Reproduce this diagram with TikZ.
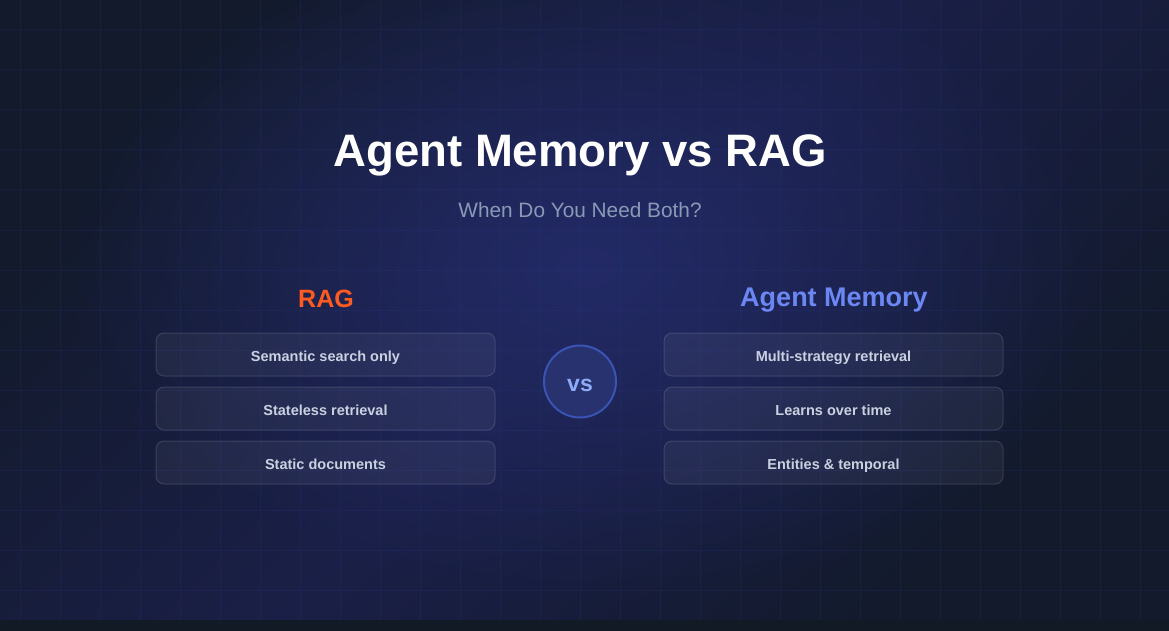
\documentclass[tikz,border=0pt]{standalone}
\usepackage{fontspec}
\setmainfont{Liberation Sans}
\usetikzlibrary{fadings}
\tikzfading[name=glowfade, inner color=transparent!0, outer color=transparent!100]
\definecolor{bgdark}{HTML}{121A2B}
\definecolor{bgmid}{HTML}{1A1F47}
\definecolor{glowc}{HTML}{232B68}
\definecolor{stripc}{HTML}{111A25}
\definecolor{gridc}{HTML}{3446A8}
\definecolor{subc}{HTML}{8A9AB6}
\definecolor{itemtext}{HTML}{C9D1E1}
\definecolor{ragc}{HTML}{FF5A1F}
\definecolor{memc}{HTML}{6B87F3}
\definecolor{vsfill}{HTML}{27326E}
\definecolor{vsdraw}{HTML}{3A54B4}
\definecolor{vstext}{HTML}{8FAAF6}
\tikzset{
  gridline/.style={draw=gridc, draw opacity=0.13, line width=1pt},
  item/.style={draw=white, draw opacity=0.13, fill=white, fill opacity=0.05, text opacity=1,
    rounded corners=8pt, minimum width=339pt, minimum height=43pt, line width=1pt,
    text=itemtext, font=\bfseries\fontsize{14.5}{17}\selectfont, inner sep=0pt,
    text height=14pt, text depth=0pt},
  heading/.style={anchor=base, font=\bfseries\fontsize{25}{30}\selectfont},
}
\begin{document}
\begin{tikzpicture}[x=1pt,y=-1pt]
\useasboundingbox (0,0) rectangle (1169,631);
\shade[top color=bgdark, bottom color=bgdark, middle color=bgmid, shading angle=45] (0,0) rectangle (1169,620);
\fill[glowc, path fading=glowfade, fill opacity=0.95] (584,265) ellipse (520 and 340);
\foreach \x in {20,60,...,1160} \draw[gridline] (\x,0) -- (\x,620);
\foreach \y in {30,70,...,590} \draw[gridline] (0,\y) -- (1169,\y);
\fill[stripc] (0,620) rectangle (1169,631);

\node[anchor=base, text=white, font=\bfseries\fontsize{45.5}{50}\selectfont] (title) at (580,167) {Agent Memory vs RAG};
\node[anchor=base, text=subc, font=\fontsize{20.8}{24}\selectfont] (sub) at (580,217) {When Do You Need Both?};

\node[heading, text=ragc] (rag) at (326,307) {RAG};
\node[heading, text=memc, font=\bfseries\fontsize{27}{30}\selectfont] (mem) at (834,306) {Agent Memory};

\node[item] (r1) at (325.5,354.5) {Semantic search only};
\node[item] (r2) at (325.5,408.5) {Stateless retrieval};
\node[item] (r3) at (325.5,462.5) {Static documents};

\node[item] (m1) at (833.5,354.5) {Multi-strategy retrieval};
\node[item] (m2) at (833.5,408.5) {Learns over time};
\node[item] (m3) at (833.5,462.5) {Entities \& temporal};

\node[circle, minimum size=72pt, inner sep=0pt, fill=vsfill, draw=vsdraw, line width=2pt] (vs) at (580,381.5) {};
\node[anchor=base, text=vstext, font=\bfseries\fontsize{23}{26}\selectfont] (vstxt) at (580,391) {vs};
\end{tikzpicture}
\end{document}
